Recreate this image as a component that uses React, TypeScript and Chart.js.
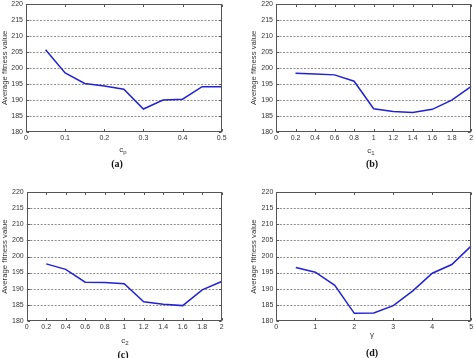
import React, { useEffect, useRef } from "react";
import { Chart, registerables } from "chart.js";

Chart.register(...registerables);
Chart.defaults.font.family = "'Liberation Sans', Arial, sans-serif";

// ---- data ----
const yTicks = [180, 185, 190, 195, 200, 205, 210, 215, 220];

const xTicksA = [0, 0.1, 0.2, 0.3, 0.4, 0.5];
const xA = [0.05, 0.1, 0.15, 0.2, 0.25, 0.3, 0.35, 0.4, 0.45, 0.5];
const yA = [205.7, 198.4, 195.1, 194.3, 193.3, 187.1, 189.9, 190.2, 194.1, 194.1];

const xTicksB = [0, 0.2, 0.4, 0.6, 0.8, 1, 1.2, 1.4, 1.6, 1.8, 2];
const xB = [0.2, 0.4, 0.6, 0.8, 1.0, 1.2, 1.4, 1.6, 1.8, 2.0];
const yB = [198.3, 198.1, 197.8, 195.8, 187.2, 186.3, 186.0, 187.0, 189.9, 194.2];

const xTicksC = [0, 0.2, 0.4, 0.6, 0.8, 1, 1.2, 1.4, 1.6, 1.8, 2];
const xC = [0.2, 0.4, 0.6, 0.8, 1.0, 1.2, 1.4, 1.6, 1.8, 2.0];
const yC = [197.7, 196.0, 192.0, 191.9, 191.5, 185.9, 185.1, 184.7, 189.6, 192.2];

const xTicksD = [0, 1, 2, 3, 4, 5];
const xD = [0.5, 1.0, 1.5, 2.0, 2.5, 3.0, 3.5, 4.0, 4.5, 5.0];
const yD = [196.6, 195.1, 191.0, 182.3, 182.4, 184.7, 189.3, 194.8, 197.5, 203.3];

const yTitle = "Average fitness value";

const LINE = "#2222d4";
const FRAME = "#555";
const GRID = "#8c8c8c";
const TEXT = "#333";

const framePlugin = {
  id: "frame",
  beforeDatasetsDraw(chart: any) {
    const { ctx, chartArea: a, scales } = chart;
    const ys = scales.y;
    ctx.save();
    ctx.strokeStyle = GRID;
    ctx.lineWidth = 1;
    ctx.setLineDash([2, 1.5]);
    for (const t of ys.ticks) {
      if (t.value <= ys.min || t.value >= ys.max) continue;
      const y = Math.round(ys.getPixelForValue(t.value)) + 0.5;
      ctx.beginPath();
      ctx.moveTo(a.left, y);
      ctx.lineTo(a.right, y);
      ctx.stroke();
    }
    ctx.restore();
  },
  afterDatasetsDraw(chart: any) {
    const { ctx, chartArea: a, scales } = chart;
    const xs = scales.x;
    const ys = scales.y;
    ctx.save();
    ctx.strokeStyle = FRAME;
    ctx.lineWidth = 1;
    ctx.setLineDash([]);
    const L = Math.round(a.left) + 0.5;
    const R = Math.round(a.right) - 0.5;
    const T = Math.round(a.top) + 0.5;
    const B = Math.round(a.bottom) - 0.5;
    ctx.strokeRect(L, T, R - L, B - T);
    const tl = 2.5;
    ctx.beginPath();
    for (const t of xs.ticks) {
      const x = Math.round(xs.getPixelForValue(t.value)) + 0.5;
      ctx.moveTo(x, B);
      ctx.lineTo(x, B - tl);
      ctx.moveTo(x, T);
      ctx.lineTo(x, T + tl);
    }
    for (const t of ys.ticks) {
      const y = Math.round(ys.getPixelForValue(t.value)) + 0.5;
      ctx.moveTo(L, y);
      ctx.lineTo(L + tl, y);
      ctx.moveTo(R, y);
      ctx.lineTo(R - tl, y);
    }
    ctx.stroke();
    ctx.restore();
  },
};

type PanelProps = {
  left: number;
  top: number;
  width: number;
  height: number;
  pad: { left: number; top: number; right: number; bottom: number };
  yAxisWidth: number;
  xAxisHeight: number;
  xs: number[];
  ys: number[];
  xTicks: number[];
};

function zeroPad(s: any) {
  s.paddingTop = 0;
  s.paddingBottom = 0;
  s.paddingLeft = 0;
  s.paddingRight = 0;
}

function Panel(p: PanelProps) {
  const ref = useRef<HTMLCanvasElement>(null);
  useEffect(() => {
    const xMin = p.xTicks[0];
    const xMax = p.xTicks[p.xTicks.length - 1];
    const chart = new Chart(ref.current as HTMLCanvasElement, {
      type: "line",
      data: {
        datasets: [
          {
            data: p.xs.map((x, i) => ({ x, y: p.ys[i] })),
            borderColor: LINE,
            borderWidth: 1.5,
            pointRadius: 0,
            tension: 0,
            fill: false,
          },
        ],
      },
      options: {
        responsive: false,
        animation: false,
        layout: { padding: p.pad },
        plugins: { legend: { display: false }, tooltip: { enabled: false } },
        scales: {
          x: {
            type: "linear",
            min: xMin,
            max: xMax,
            afterBuildTicks: (s: any) => {
              s.ticks = p.xTicks.map((v) => ({ value: v }));
            },
            afterFit: (s: any) => {
              s.height = p.xAxisHeight;
              zeroPad(s);
            },
            grid: { display: false, drawTicks: false },
            border: { display: false },
            ticks: {
              padding: 2,
              color: TEXT,
              font: { size: 7 },
              maxRotation: 0,
              autoSkip: false,
              callback: (v: any) => String(Math.round(Number(v) * 10) / 10),
            },
          },
          y: {
            type: "linear",
            min: yTicks[0],
            max: yTicks[yTicks.length - 1],
            afterBuildTicks: (s: any) => {
              s.ticks = yTicks.map((v) => ({ value: v }));
            },
            afterFit: (s: any) => {
              s.width = p.yAxisWidth;
              zeroPad(s);
            },
            grid: { display: false, drawTicks: false },
            border: { display: false },
            ticks: {
              padding: 3,
              color: TEXT,
              font: { size: 7 },
              autoSkip: false,
              callback: (v: any) => String(v),
            },
            title: {
              display: true,
              text: yTitle,
              color: TEXT,
              font: { size: 7.8 },
              padding: { top: 0, bottom: 0 },
            },
          },
        },
      },
      plugins: [framePlugin],
    } as any);
    return () => chart.destroy();
  }, []);
  return (
    <canvas
      ref={ref}
      width={p.width}
      height={p.height}
      style={{ position: "absolute", left: p.left, top: p.top, width: p.width, height: p.height }}
    />
  );
}

function Label(props: { x: number; y: number; children: React.ReactNode; style?: React.CSSProperties }) {
  return (
    <div
      style={{
        position: "absolute",
        left: props.x,
        top: props.y,
        transform: "translate(-50%, -50%)",
        whiteSpace: "nowrap",
        lineHeight: 1,
        color: TEXT,
        fontFamily: "'Liberation Sans', Arial, sans-serif",
        fontSize: 8,
        ...props.style,
      }}
    >
      {props.children}
    </div>
  );
}

const subStyle: React.CSSProperties = { fontSize: 6, verticalAlign: -2, lineHeight: 1 };
const panelStyle: React.CSSProperties = {
  fontFamily: "'Liberation Serif', 'Times New Roman', serif",
  fontWeight: "bold",
  fontSize: 10,
  color: "#111",
};

export default function App() {
  return (
    <div
      style={{
        position: "absolute",
        left: 0,
        top: 0,
        width: 474,
        height: 358,
        overflow: "hidden",
        background: "#fff",
      }}
    >
      <Panel left={0} top={0} width={237} height={150}
        pad={{ left: 0, top: 4, right: 15.3, bottom: 0 }}
        yAxisWidth={26} xAxisHeight={18.3} xs={xA} ys={yA} xTicks={xTicksA} />
      <Panel left={237} top={0} width={237} height={150}
        pad={{ left: 12.5, top: 4, right: 2.7, bottom: 0 }}
        yAxisWidth={26.5} xAxisHeight={18.3} xs={xB} ys={yB} xTicks={xTicksB} />
      <Panel left={0} top={179} width={237} height={160}
        pad={{ left: 0, top: 13.3, right: 15.3, bottom: 0 }}
        yAxisWidth={26.7} xAxisHeight={18.3} xs={xC} ys={yC} xTicks={xTicksC} />
      <Panel left={237} top={179} width={237} height={160}
        pad={{ left: 12.5, top: 13.3, right: 2.7, bottom: 0 }}
        yAxisWidth={26.8} xAxisHeight={18.3} xs={xD} ys={yD} xTicks={xTicksD} />

      <Label x={123} y={150}>c<sub style={subStyle}>p</sub></Label>
      <Label x={117} y={164} style={panelStyle}>(a)</Label>

      <Label x={371} y={151}>c<sub style={subStyle}>1</sub></Label>
      <Label x={372} y={164} style={panelStyle}>(b)</Label>

      <Label x={125} y={341}>c<sub style={subStyle}>2</sub></Label>
      <Label x={123} y={355} style={panelStyle}>(c)</Label>

      <Label x={372} y={335}>γ</Label>
      <Label x={372} y={353} style={panelStyle}>(d)</Label>
    </div>
  );
}
